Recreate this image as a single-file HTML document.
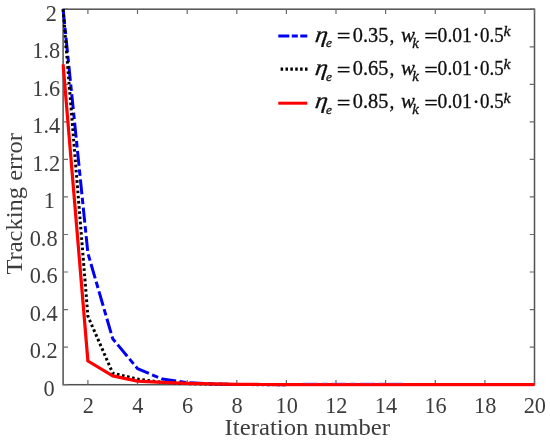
<!DOCTYPE html><html><head><meta charset="utf-8"><title>Tracking error</title>
<style>html,body{margin:0;padding:0;background:#fff}svg{display:block}text{font-family:"Liberation Serif","DejaVu Serif",serif}</style></head><body>
<svg width="550" height="440" viewBox="0 0 550 440">
<defs><filter id="soft" x="0" y="0" width="550" height="440" filterUnits="userSpaceOnUse"><feGaussianBlur stdDeviation="0.45"/></filter></defs>
<rect width="550" height="440" fill="#fff"/>
<g filter="url(#soft)">
<rect x="63.1" y="9.2" width="471.4" height="375.5" fill="none" stroke="#505050" stroke-width="1.5"/>
<path d="M87.9 384.7v-4.8M87.9 9.2v4.8M137.5 384.7v-4.8M137.5 9.2v4.8M187.2 384.7v-4.8M187.2 9.2v4.8M236.8 384.7v-4.8M236.8 9.2v4.8M286.4 384.7v-4.8M286.4 9.2v4.8M336.0 384.7v-4.8M336.0 9.2v4.8M385.6 384.7v-4.8M385.6 9.2v4.8M435.3 384.7v-4.8M435.3 9.2v4.8M484.9 384.7v-4.8M484.9 9.2v4.8M534.5 384.7v-4.8M534.5 9.2v4.8M63.1 384.7h4.8M534.5 384.7h-4.8M63.1 347.1h4.8M534.5 347.1h-4.8M63.1 309.6h4.8M534.5 309.6h-4.8M63.1 272.0h4.8M534.5 272.0h-4.8M63.1 234.5h4.8M534.5 234.5h-4.8M63.1 196.9h4.8M534.5 196.9h-4.8M63.1 159.4h4.8M534.5 159.4h-4.8M63.1 121.8h4.8M534.5 121.8h-4.8M63.1 84.3h4.8M534.5 84.3h-4.8M63.1 46.8h4.8M534.5 46.8h-4.8M63.1 9.2h4.8M534.5 9.2h-4.8" stroke="#6a6a6a" stroke-width="1.2" fill="none"/>
<g font-size="23.5" fill="#3c3c3c">
<text transform="translate(88.2 412.8) scale(0.95 1)" text-anchor="middle">2</text>
<text transform="translate(137.8 412.8) scale(0.95 1)" text-anchor="middle">4</text>
<text transform="translate(187.5 412.8) scale(0.95 1)" text-anchor="middle">6</text>
<text transform="translate(237.1 412.8) scale(0.95 1)" text-anchor="middle">8</text>
<text transform="translate(286.7 412.8) scale(0.95 1)" text-anchor="middle">10</text>
<text transform="translate(336.3 412.8) scale(0.95 1)" text-anchor="middle">12</text>
<text transform="translate(385.9 412.8) scale(0.95 1)" text-anchor="middle">14</text>
<text transform="translate(435.6 412.8) scale(0.95 1)" text-anchor="middle">16</text>
<text transform="translate(485.2 412.8) scale(0.95 1)" text-anchor="middle">18</text>
<text transform="translate(534.8 412.8) scale(0.95 1)" text-anchor="middle">20</text>
<text transform="translate(54.7 395.7) scale(0.95 1)" text-anchor="end">0</text>
<text transform="translate(57.6 358.2) scale(0.95 1)" text-anchor="end">0.2</text>
<text transform="translate(57.6 320.7) scale(0.95 1)" text-anchor="end">0.4</text>
<text transform="translate(57.6 283.3) scale(0.95 1)" text-anchor="end">0.6</text>
<text transform="translate(57.6 245.8) scale(0.95 1)" text-anchor="end">0.8</text>
<text transform="translate(55.0 208.3) scale(0.95 1)" text-anchor="end">1</text>
<text transform="translate(60.2 170.8) scale(0.95 1)" text-anchor="end">1.2</text>
<text transform="translate(60.2 133.3) scale(0.95 1)" text-anchor="end">1.4</text>
<text transform="translate(60.2 95.9) scale(0.95 1)" text-anchor="end">1.6</text>
<text transform="translate(60.2 58.4) scale(0.95 1)" text-anchor="end">1.8</text>
<text transform="translate(57.0 20.9) scale(0.95 1)" text-anchor="end">2</text>
</g>
<text x="224.6" y="435.3" font-size="23" fill="#3c3c3c" textLength="165.5" lengthAdjust="spacingAndGlyphs">Iteration number</text>
<text transform="translate(22 274.6) rotate(-90)" font-size="23" fill="#3c3c3c" textLength="141.5" lengthAdjust="spacingAndGlyphs">Tracking error</text>
<svg x="61.1" y="8.2" width="475.4" height="378.5" viewBox="61.1 8.2 475.4 378.5">
<path d="M63.1 9.2 L87.9 253.3 L112.7 338.7 L137.5 368.6 L162.3 379.1 L187.2 382.7 L212.0 384.0 L236.8 384.5 L261.6 384.6 L286.4 384.7" fill="none" stroke="#0000f5" stroke-width="3" stroke-dasharray="15 3.5 6.5 3.5" stroke-linejoin="round"/>
<path d="M63.1 9.2 L87.9 316.2 L112.7 373.1 L137.5 379.1 L162.3 382.3 L187.2 383.6 L212.0 384.1 L236.8 384.5 L261.6 384.7 L286.4 384.7" fill="none" stroke="#000" stroke-width="3" stroke-dasharray="2.6 2.6" stroke-linejoin="round"/>
<path d="M63.1 64.4 L87.9 361.0 L112.7 375.9 L137.5 381.1 L162.3 382.4 L187.2 383.4 L212.0 383.9 L236.8 384.3 L261.6 384.5 L286.4 384.7 L311.2 384.7 L336.0 384.7 L360.8 384.7 L385.6 384.7 L410.4 384.7 L435.3 384.7 L460.1 384.7 L484.9 384.7 L509.7 384.7 L534.5 384.7" fill="none" stroke="#ff0000" stroke-width="3.2" stroke-linejoin="round"/>
<path d="M303 382.9H403" stroke="#7a6cff" stroke-opacity="0.45" stroke-width="1" stroke-dasharray="15 3.5 6.5 3.5" fill="none"/>
</svg>
<path d="M278.3 36.0h11M291.8 36.0h6M300.3 36.0h7" stroke="#0000f5" stroke-width="3" fill="none"/>
<g fill="#0c0c0c" stroke="#0c0c0c" stroke-width="0.3"><text transform="translate(314.6 41.6) scale(1.1 1) skewX(-7)" font-size="23" font-style="italic">η</text><text transform="translate(326.0 47.4) scale(1.0 1)" font-size="13.5" font-style="italic">e</text><text transform="translate(336.8 43.2) scale(1.13 1)" font-size="21.5">=</text><text transform="translate(352.8 41.6) scale(0.945 1)" font-size="21.5">0.35</text><text transform="translate(389.4 41.6) scale(0.9 1)" font-size="21.5" font-style="italic">,</text><text transform="translate(401.0 41.6) scale(0.97 1)" font-size="21.5" font-style="italic">w</text><text transform="translate(412.3 47.5) scale(1.05 1)" font-size="14" font-style="italic">k</text><text transform="translate(424.2 43.2) scale(1.12 1)" font-size="21.5">=</text><text transform="translate(437.6 41.6) scale(0.91 1)" font-size="21.5">0.01</text><text transform="translate(472.6 41.9) scale(1.0 1)" font-size="21.5">·</text><text transform="translate(480.0 41.6) scale(0.88 1)" font-size="21.5">0.5</text><text transform="translate(503.5 35.8) scale(1.12 1)" font-size="14" font-style="italic">k</text></g>
<path d="M280.6 69.2h26.9" stroke="#000" stroke-width="3.2" stroke-dasharray="2.5 2.38" fill="none"/>
<g fill="#0c0c0c" stroke="#0c0c0c" stroke-width="0.3"><text transform="translate(314.6 74.9) scale(1.1 1) skewX(-7)" font-size="23" font-style="italic">η</text><text transform="translate(326.0 80.7) scale(1.0 1)" font-size="13.5" font-style="italic">e</text><text transform="translate(336.8 76.5) scale(1.13 1)" font-size="21.5">=</text><text transform="translate(352.8 74.9) scale(0.945 1)" font-size="21.5">0.65</text><text transform="translate(389.4 74.9) scale(0.9 1)" font-size="21.5" font-style="italic">,</text><text transform="translate(401.0 74.9) scale(0.97 1)" font-size="21.5" font-style="italic">w</text><text transform="translate(412.3 80.8) scale(1.05 1)" font-size="14" font-style="italic">k</text><text transform="translate(424.2 76.5) scale(1.12 1)" font-size="21.5">=</text><text transform="translate(437.6 74.9) scale(0.91 1)" font-size="21.5">0.01</text><text transform="translate(472.6 75.2) scale(1.0 1)" font-size="21.5">·</text><text transform="translate(480.0 74.9) scale(0.88 1)" font-size="21.5">0.5</text><text transform="translate(503.5 69.1) scale(1.12 1)" font-size="14" font-style="italic">k</text></g>
<path d="M278.3 103.2h29" stroke="#ff0000" stroke-width="3" fill="none"/>
<g fill="#0c0c0c" stroke="#0c0c0c" stroke-width="0.3"><text transform="translate(314.6 108.4) scale(1.1 1) skewX(-7)" font-size="23" font-style="italic">η</text><text transform="translate(326.0 114.2) scale(1.0 1)" font-size="13.5" font-style="italic">e</text><text transform="translate(336.8 110.0) scale(1.13 1)" font-size="21.5">=</text><text transform="translate(352.8 108.4) scale(0.945 1)" font-size="21.5">0.85</text><text transform="translate(389.4 108.4) scale(0.9 1)" font-size="21.5" font-style="italic">,</text><text transform="translate(401.0 108.4) scale(0.97 1)" font-size="21.5" font-style="italic">w</text><text transform="translate(412.3 114.3) scale(1.05 1)" font-size="14" font-style="italic">k</text><text transform="translate(424.2 110.0) scale(1.12 1)" font-size="21.5">=</text><text transform="translate(437.6 108.4) scale(0.91 1)" font-size="21.5">0.01</text><text transform="translate(472.6 108.7) scale(1.0 1)" font-size="21.5">·</text><text transform="translate(480.0 108.4) scale(0.88 1)" font-size="21.5">0.5</text><text transform="translate(503.5 102.6) scale(1.12 1)" font-size="14" font-style="italic">k</text></g>
</g></svg></body></html>
